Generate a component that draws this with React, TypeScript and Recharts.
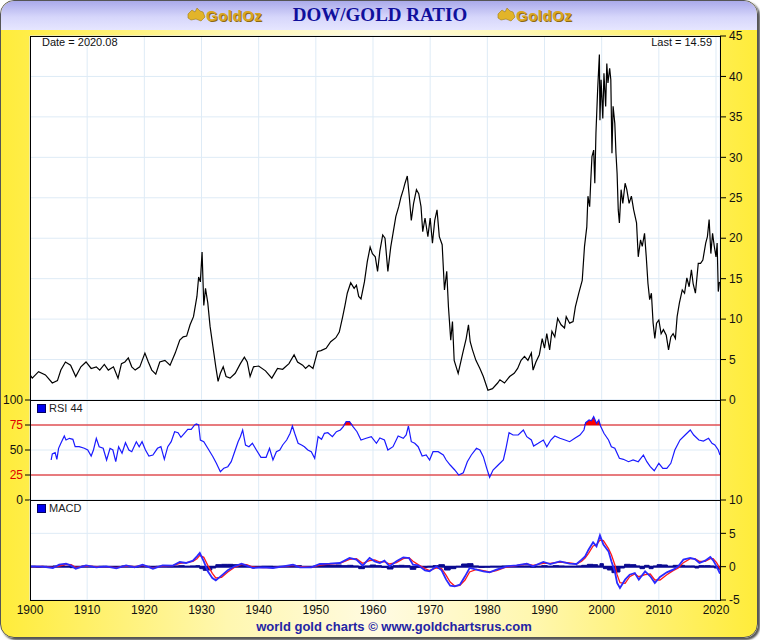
import React from 'react';
import { ComposedChart, Line, Area, XAxis, YAxis, CartesianGrid, ReferenceLine } from 'recharts';

// Dow/Gold ratio (decimal years)
const ratioYears = [
  1900.0, 1900.4, 1901.5, 1902.7, 1903.9, 1904.8, 1905.4, 1906.2, 1907.1, 1908.0, 1908.9, 1909.8,
  1910.7, 1911.6, 1912.2, 1913.0, 1913.7, 1914.6, 1915.4, 1916.0, 1916.6, 1917.2, 1917.8, 1918.4,
  1919.2, 1920.1, 1920.7, 1921.3, 1922.0, 1922.7, 1923.6, 1924.5, 1925.4, 1926.2, 1926.8, 1927.4,
  1928.0, 1928.6, 1929.2, 1929.5, 1929.8, 1930.1, 1930.4, 1930.7, 1931.1, 1931.5, 1932.0, 1932.5,
  1932.9, 1933.3, 1933.8, 1934.3, 1935.0, 1935.9, 1936.8, 1937.5, 1938.0, 1938.5, 1939.1, 1940.0,
  1941.2, 1942.3, 1943.3, 1944.2, 1945.3, 1946.2, 1946.8, 1947.7, 1948.2, 1948.8, 1949.5, 1950.3,
  1950.9, 1951.8, 1952.6, 1953.5, 1954.1, 1954.7, 1955.1, 1955.5, 1956.1, 1956.7, 1957.1, 1957.5,
  1957.9, 1958.5, 1959.0, 1959.5, 1959.9, 1960.4, 1960.8, 1961.2, 1961.7, 1962.1, 1962.6, 1963.1,
  1963.5, 1964.0, 1964.5, 1964.9, 1965.3, 1965.6, 1966.0, 1966.3, 1966.7, 1967.1, 1967.6, 1968.0,
  1968.4, 1968.7, 1969.1, 1969.6, 1970.0, 1970.4, 1970.8, 1971.2, 1971.6, 1972.1, 1972.5, 1972.9,
  1973.2, 1973.6, 1973.9, 1974.2, 1974.9, 1975.7, 1976.3, 1976.7, 1977.0, 1977.4, 1978.0, 1978.7,
  1979.3, 1980.1, 1980.9, 1981.8, 1982.2, 1983.0, 1983.9, 1984.7, 1985.3, 1985.9, 1986.5, 1987.1,
  1987.7, 1988.0, 1988.5, 1989.1, 1989.6, 1990.0, 1990.4, 1990.9, 1991.3, 1991.8, 1992.3, 1992.9,
  1993.5, 1993.8, 1994.4, 1995.0, 1995.4, 1996.0, 1996.6, 1997.0, 1997.4, 1997.6, 1997.9, 1998.1,
  1998.3, 1998.6, 1998.8, 1999.0, 1999.3, 1999.6, 1999.7, 1999.9, 2000.2, 2000.4, 2000.7, 2000.9,
  2001.1, 2001.4, 2001.6, 2001.8, 2002.0, 2002.3, 2002.5, 2002.7, 2002.9, 2003.1, 2003.4, 2003.7,
  2004.1, 2004.4, 2004.8, 2005.2, 2005.6, 2006.1, 2006.4, 2006.8, 2007.1, 2007.5, 2007.8, 2008.1,
  2008.4, 2008.7, 2009.0, 2009.3, 2009.6, 2010.0, 2010.4, 2010.8, 2011.3, 2011.7, 2012.1, 2012.5,
  2012.9, 2013.2, 2013.6, 2014.1, 2014.5, 2014.9, 2015.3, 2015.7, 2016.0, 2016.4, 2016.9, 2017.3,
  2017.7, 2018.2, 2018.5, 2018.8, 2019.1, 2019.4, 2019.7, 2020.0, 2020.2, 2020.4, 2020.6,
];
const ratioValues = [
  3.1, 2.7, 3.5, 3.1, 2.1, 2.4, 3.7, 4.7, 4.3, 2.9, 4.1, 4.7,
  3.9, 4.1, 3.7, 4.4, 3.7, 4.1, 2.7, 4.5, 4.7, 5.2, 4.1, 3.7,
  4.1, 5.8, 4.7, 3.7, 3.2, 4.7, 4.9, 4.3, 5.8, 7.4, 7.8, 7.9,
  9.3, 10.3, 12.8, 15.2, 14.6, 18.3, 11.7, 13.8, 12.0, 9.1, 6.6, 4.1,
  2.3, 3.3, 4.1, 2.9, 2.7, 3.3, 4.5, 5.3, 4.7, 2.9, 4.1, 4.2,
  3.6, 2.7, 3.9, 3.8, 4.5, 5.6, 4.7, 4.3, 3.9, 4.3, 3.9, 6.0,
  6.1, 6.4, 7.2, 7.7, 8.4, 10.3, 11.7, 13.2, 14.5, 13.8, 14.2, 12.8,
  12.5, 14.6, 17.1, 18.9, 18.1, 17.7, 15.9, 18.4, 20.4, 20.0, 15.9, 18.9,
  20.6, 22.7, 23.9, 25.1, 26.0, 26.8, 27.7, 25.5, 22.2, 24.3, 26.0, 25.5,
  23.9, 20.8, 22.5, 20.2, 22.5, 19.4, 22.2, 23.5, 20.2, 19.2, 13.6, 15.9,
  11.5, 7.4, 9.7, 4.9, 3.3, 5.8, 7.6, 9.3, 7.2, 6.2, 4.9, 3.9,
  2.9, 1.2, 1.4, 2.1, 2.5, 2.1, 2.9, 3.3, 3.9, 4.9, 5.4, 4.9,
  5.8, 3.7, 4.7, 5.6, 7.6, 6.4, 8.2, 6.2, 8.5, 7.8, 10.1, 9.3,
  8.9, 10.3, 9.5, 9.7, 11.5, 13.2, 14.8, 19.0, 21.4, 25.2, 23.9, 27.2,
  30.1, 30.9, 26.8, 33.0, 38.4, 42.7, 34.6, 39.6, 34.8, 40.4, 36.3, 41.6,
  39.2, 41.0, 39.6, 30.5, 36.3, 34.2, 30.5, 28.0, 23.5, 21.9, 26.0, 24.3,
  26.8, 26.0, 24.3, 25.2, 23.5, 21.9, 17.7, 19.8, 19.0, 20.6, 17.7, 14.4,
  12.4, 13.2, 9.5, 7.6, 9.5, 9.9, 8.2, 8.7, 8.0, 6.2, 7.8, 8.2,
  7.6, 10.3, 12.0, 13.6, 13.2, 15.1, 14.0, 16.1, 14.4, 13.2, 16.9, 16.9,
  17.3, 19.4, 20.2, 22.3, 18.1, 20.6, 19.0, 17.7, 19.4, 13.4, 14.6,
];

// RSI 44
const rsiYears = [
  1903.7, 1903.9, 1904.4, 1904.7, 1905.0, 1905.4, 1906.0, 1906.3, 1906.9, 1907.5, 1907.9, 1908.6,
  1909.5, 1910.1, 1910.7, 1911.1, 1911.6, 1912.1, 1912.8, 1913.4, 1914.0, 1914.5, 1915.0, 1915.5,
  1916.1, 1916.7, 1917.3, 1917.8, 1918.6, 1919.1, 1919.6, 1920.2, 1920.8, 1921.5, 1922.3, 1922.9,
  1923.5, 1924.1, 1924.7, 1925.3, 1925.9, 1926.4, 1927.0, 1927.6, 1928.2, 1928.8, 1929.1, 1929.5,
  1929.8, 1930.4, 1931.1, 1932.0, 1932.6, 1933.3, 1933.9, 1934.6, 1935.2, 1935.8, 1936.4, 1936.8,
  1937.2, 1937.7, 1938.3, 1938.9, 1939.6, 1940.4, 1941.3, 1941.9, 1942.5, 1943.1, 1943.7, 1944.2,
  1944.9, 1945.5, 1945.9, 1946.3, 1946.9, 1947.5, 1948.0, 1948.6, 1949.2, 1949.8, 1950.4, 1951.0,
  1951.5, 1952.1, 1952.9, 1953.6, 1954.3, 1954.8, 1955.3, 1955.9, 1956.5, 1957.2, 1957.9, 1958.8,
  1959.7, 1960.6, 1961.2, 1962.0, 1962.6, 1963.5, 1964.4, 1965.3, 1965.8, 1966.2, 1966.7, 1967.3,
  1967.9, 1968.6, 1969.3, 1969.9, 1970.5, 1971.4, 1972.3, 1972.8, 1973.5, 1974.3, 1975.0, 1975.8,
  1976.5, 1977.2, 1978.1, 1978.7, 1979.3, 1979.9, 1980.4, 1981.0, 1981.9, 1982.8, 1983.2, 1983.8,
  1984.5, 1985.4, 1986.3, 1986.9, 1987.7, 1988.1, 1988.9, 1989.8, 1990.4, 1991.1, 1991.8, 1992.7,
  1993.6, 1994.4, 1995.3, 1996.2, 1996.9, 1997.2, 1997.8, 1998.2, 1998.6, 1999.1, 1999.5, 1999.8,
  2000.4, 2001.2, 2001.7, 2002.3, 2003.1, 2003.8, 2004.7, 2005.5, 2006.4, 2007.3, 2007.9, 2008.5,
  2009.2, 2010.0, 2010.7, 2011.4, 2012.1, 2012.8, 2013.7, 2014.6, 2015.5, 2016.1, 2017.0, 2017.8,
  2018.7, 2019.3, 2019.8, 2020.4, 2020.7,
];
const rsiValues = [
  40, 46, 47.3, 40.7, 51.7, 56.7, 64, 60, 61.7, 60.7, 53.3, 53.3,
  51.7, 50, 44, 50, 61.7, 53.3, 51.7, 40, 51.7, 50, 38.3, 53.3,
  46.7, 57.3, 50, 48.3, 58.3, 53.3, 58.3, 50, 44, 45, 51.7, 53.3,
  40.7, 53.3, 58.3, 68.3, 67.3, 62.7, 66.7, 70.7, 70.7, 75, 76, 75,
  60, 58.3, 51.7, 43.3, 36.7, 28.3, 31.7, 33.3, 38.3, 48.3, 58.3, 63.3,
  70, 55, 53.3, 56.7, 50, 42.7, 42.7, 51.7, 40, 48.3, 50, 55,
  60, 66.7, 74, 66.7, 56.7, 55, 53.3, 50, 48.3, 41.7, 63.3, 60.7,
  66.7, 67.3, 63.3, 68.3, 70, 73.3, 78.3, 78.3, 73.3, 68.3, 60, 61.7,
  63.3, 56.7, 62, 60, 50, 53.3, 64, 61.7, 65, 74, 58.3, 56.7,
  53.3, 44, 45, 40, 48.3, 48.3, 45, 40, 35, 30, 25, 27.3,
  38.3, 45, 51.7, 50, 43.3, 31.7, 22.7, 30, 35, 40, 50, 67.3,
  65, 65, 70, 63.3, 60, 54, 56.7, 60, 53.3, 60, 64, 61.7,
  60, 58.3, 61.7, 65, 70, 77.3, 80, 79.3, 83.3, 76.7, 80, 74,
  66.7, 60, 53.3, 51.7, 41.7, 40.7, 38.3, 40, 38.3, 45, 38.3, 33.3,
  29.3, 36.7, 31.7, 31.7, 36.7, 50, 60, 65, 70, 65, 60, 59,
  61.7, 56.7, 55, 50, 45,
];

// MACD line and its signal line
const macdYears = [
  1900.0, 1902.2, 1904.0, 1905.1, 1906.3, 1907.2, 1908.0, 1909.8, 1911.6, 1913.3, 1915.1, 1916.8,
  1918.3, 1919.7, 1921.5, 1923.2, 1925.0, 1926.2, 1927.3, 1928.5, 1929.2, 1929.7, 1930.4, 1931.1,
  1931.9, 1932.5, 1933.5, 1934.6, 1935.8, 1937.0, 1937.9, 1939.0, 1940.8, 1942.5, 1944.3, 1946.0,
  1947.2, 1949.2, 1950.7, 1952.4, 1954.2, 1955.9, 1957.1, 1958.2, 1959.4, 1960.3, 1961.2, 1962.0,
  1962.9, 1964.1, 1965.3, 1966.3, 1967.0, 1967.9, 1969.1, 1969.9, 1971.1, 1972.0, 1972.8, 1973.5,
  1974.3, 1975.2, 1976.1, 1976.9, 1978.1, 1979.3, 1980.4, 1981.6, 1983.4, 1985.1, 1986.9, 1988.0,
  1989.8, 1991.0, 1992.7, 1994.4, 1995.6, 1996.5, 1997.1, 1997.7, 1998.5, 1999.1, 1999.7, 2000.3,
  2001.2, 2001.7, 2002.3, 2002.7, 2003.2, 2004.1, 2004.9, 2005.8, 2006.5, 2007.6, 2008.5, 2009.3,
  2010.2, 2011.4, 2012.5, 2013.4, 2014.3, 2015.5, 2016.3, 2017.1, 2018.1, 2019.0, 2019.5, 2020.1,
  2020.7,
];
const macdValues = [
  0.05, 0.0, -0.2, 0.3, 0.45, 0.15, -0.3, 0.2, -0.1, 0.05, -0.25, 0.2,
  -0.1, 0.3, -0.3, 0.2, 0.15, 0.7, 0.55, 0.9, 1.55, 2.05, 0.8, -0.7,
  -1.7, -2.05, -1.35, -0.55, 0.05, 0.45, 0.15, -0.2, -0.1, -0.2, 0.05, 0.3,
  -0.1, -0.1, 0.4, 0.45, 0.55, 1.3, 1.05, 0.15, 1.3, 0.8, 0.55, 0.9,
  0.05, 0.8, 1.4, 1.3, 0.3, 0.2, -0.55, -0.7, 0.05, -0.55, -1.95, -2.85,
  -2.95, -2.7, -1.45, -0.2, -0.45, -0.7, -0.85, -0.45, 0.05, 0.2, 0.45, 0.05,
  0.7, 0.4, 0.8, 0.45, 0.4, 1.05, 1.55, 2.55, 3.65, 3.05, 4.7, 3.3,
  2.3, 0.8, -0.7, -2.45, -3.2, -1.95, -1.2, -0.95, -1.95, -0.7, -1.45, -2.45,
  -1.55, -0.85, -0.45, 0.05, 1.05, 1.3, 1.15, 0.55, 0.9, 1.45, 0.95, 0.05,
  -1.05,
];
const signalValues = [
  0.0, 0.05, -0.1, 0.1, 0.35, 0.3, -0.1, 0.1, 0.0, 0.0, -0.15, 0.1,
  0.0, 0.2, -0.2, 0.1, 0.15, 0.5, 0.6, 0.8, 1.2, 1.7, 1.4, 0.2,
  -1.0, -1.7, -1.6, -0.8, -0.1, 0.35, 0.3, -0.05, -0.15, -0.15, 0.0, 0.2,
  0.05, -0.1, 0.25, 0.4, 0.5, 1.1, 1.2, 0.5, 0.9, 1.0, 0.7, 0.75,
  0.4, 0.6, 1.2, 1.35, 0.8, 0.3, -0.3, -0.6, -0.2, -0.3, -1.3, -2.3,
  -2.9, -2.8, -2.0, -0.8, -0.4, -0.6, -0.8, -0.6, -0.05, 0.15, 0.4, 0.2,
  0.5, 0.5, 0.7, 0.55, 0.4, 0.8, 1.3, 2.0, 3.1, 3.3, 4.0, 3.9,
  2.7, 1.8, 0.3, -1.2, -2.4, -2.5, -1.5, -1.1, -1.5, -1.2, -1.1, -2.0,
  -2.0, -1.2, -0.6, -0.2, 0.6, 1.2, 1.2, 0.8, 0.8, 1.2, 1.2, 0.6,
  -0.3,
];

// MACD histogram
const histYears = [
  1900, 1901, 1902, 1903, 1904, 1905, 1906, 1907, 1908, 1909, 1910, 1911,
  1912, 1913, 1914, 1915, 1916, 1917, 1918, 1919, 1920, 1921, 1922, 1923,
  1924, 1925, 1926, 1927, 1928, 1929, 1929.7, 1930.3, 1931, 1931.8, 1932.5, 1933.5,
  1934.5, 1935.5, 1936.5, 1937.5, 1938.5, 1939.5, 1940.5, 1941.5, 1942.5, 1943.5, 1944.5, 1945.5,
  1946.5, 1947.5, 1948.5, 1949.5, 1950.5, 1951.5, 1952.5, 1953.5, 1954.5, 1955.5, 1956.5, 1957.5,
  1958.5, 1959.5, 1960.5, 1961.5, 1962.5, 1963.5, 1964.5, 1965.5, 1966.5, 1967.5, 1968.5, 1969.5,
  1970.5, 1971.5, 1972.5, 1973.5, 1974.5, 1975.5, 1976.5, 1977.5, 1978.5, 1979.5, 1980.5, 1981.5,
  1982.5, 1983.5, 1984.5, 1985.5, 1986.5, 1987.5, 1988.5, 1989.5, 1990.5, 1991.5, 1992.5, 1993.5,
  1994.5, 1995.5, 1996.5, 1997.5, 1998.5, 1999.3, 1999.7, 2000.3, 2001.0, 2001.8, 2002.5, 2003.2,
  2004.0, 2005.0, 2006.0, 2006.7, 2007.5, 2008.3, 2009.0, 2009.7, 2010.5, 2011.5, 2012.5, 2013.5,
  2014.5, 2015.5, 2016.3, 2017.0, 2018.0, 2019.0, 2019.7, 2020.3, 2020.7,
];
const histValues = [
  0.05, -0.05, 0.05, -0.1, 0.1, 0.15, 0.05, -0.15, -0.1, 0.1, 0.05, -0.05,
  0.05, 0.0, -0.1, -0.1, 0.1, 0.05, -0.05, 0.1, 0.05, -0.1, 0.05, 0.05,
  0.0, 0.1, 0.15, 0.05, 0.1, 0.15, -0.3, -0.55, -0.5, -0.2, 0.3, 0.35,
  0.35, 0.3, 0.25, 0.1, -0.1, -0.05, 0.05, 0.05, -0.05, 0.05, 0.05, 0.2,
  0.15, -0.1, -0.05, 0.05, 0.2, 0.25, 0.2, 0.25, 0.15, 0.2, 0.1, -0.3,
  0.1, 0.25, 0.15, -0.1, -0.35, 0.15, 0.2, 0.15, -0.4, -0.1, -0.1, 0.05,
  0.15, 0.3, -0.5, -0.3, 0.05, 0.4, 0.45, 0.1, -0.1, -0.05, 0.05, 0.05,
  0.1, 0.1, 0.05, 0.1, 0.1, -0.05, 0.05, 0.15, 0.05, 0.15, 0.1, 0.05,
  0.05, 0.1, 0.2, 0.35, 0.3, 0.1, 0.45, -0.3, -0.5, -0.9, -0.8, -0.2,
  0.35, 0.3, 0.1, -0.3, 0.2, -0.3, 0.1, 0.3, 0.25, 0.05, 0.2, 0.2,
  0.1, 0.1, -0.2, 0.15, 0.15, 0.1, -0.2, -0.35, -0.6,
];

const decadeTicks = [1900, 1910, 1920, 1930, 1940, 1950, 1960, 1970, 1980, 1990, 2000, 2010, 2020];
const ratioTicks = [0, 5, 10, 15, 20, 25, 30, 35, 40, 45];
const rsiTicks = [0, 25, 50, 75, 100];
const macdTicks = [-5, 0, 5, 10];

const ratioData = ratioYears.map((year, i) => ({ year, ratio: ratioValues[i] }));
const rsiData = rsiYears.map((year, i) => ({ year, rsi: rsiValues[i], over: Math.max(rsiValues[i], 75) }));
const macdData = [
  ...macdYears.map((year, i) => ({ year, macd: macdValues[i], signal: signalValues[i] })),
  ...histYears.map((year, i) => ({ year, hist: histValues[i] })),
].sort((a, b) => a.year - b.year);

const X_DOMAIN: [number, number] = [1900, 2020.7];
const FONT = '"Liberation Sans", Arial, sans-serif';
const GRID = '#deebf6';
const tickStyle = { fill: '#111', fontSize: 12, fontFamily: FONT };

const RsiTick = (props: any) => {
  const { x, y, payload } = props;
  const red = payload.value === 25 || payload.value === 75;
  return (
    <text x={x} y={y} dy={4} textAnchor="end" fill={red ? '#e00000' : '#111'} fontSize={12} fontFamily={FONT}>
      {payload.value}
    </text>
  );
};

const GoldOz = ({ left }: { left: number }) => (
  <div style={{ position: 'absolute', left, top: 5, height: 20, display: 'flex', alignItems: 'center' }}>
    <svg width={20} height={16}>
      <path d="M2 7 L6 3 L9 5 L11 1 L14 4 L17 5 L19 10 L15 14 L10 12 L5 13 L2 11 Z" fill="#e2b42a" stroke="#a07a10" strokeWidth={0.6} />
    </svg>
    <span style={{ fontFamily: FONT, fontWeight: 'bold', fontSize: 15, color: '#d9a520', textShadow: '1px 1px 0 #8c6a12', letterSpacing: 0.5 }}>
      GoldOz
    </span>
  </div>
);

const legendBox = (top: number, label: string) => (
  <div style={{ position: 'absolute', left: 37, top, display: 'flex', alignItems: 'center', fontSize: 11, color: '#222' }}>
    <div style={{ width: 7, height: 7, background: '#0000ee', border: '1px solid #000060', marginRight: 3 }} />
    <span>{label}</span>
  </div>
);

export default function App() {
  return (
    <div style={{ position: 'absolute', left: 0, top: 0, width: 760, height: 640, fontFamily: FONT, overflow: 'hidden' }}>
      <div
        style={{
          position: 'absolute', left: 0, top: 0, width: 756, height: 636,
          border: '1.5px solid #555', borderRadius: 14, boxShadow: '2px 2px 2px #555',
          background: 'linear-gradient(to right, #ffec3a 0%, #fff7b0 30%, #fffbe2 50%, #fff7b0 70%, #ffec3a 100%)',
          overflow: 'hidden',
        }}
      >
        <div
          style={{
            position: 'absolute', left: 0, top: 0, width: 756, height: 29,
            background: 'linear-gradient(#aaaaea, #d6d6fb 55%, #e6e6ff)',
          }}
        />
      </div>

      <GoldOz left={186} />
      <GoldOz left={496} />
      <div
        style={{
          position: 'absolute', left: 0, width: 760, top: 4, textAlign: 'center',
          fontFamily: '"Liberation Serif", "Times New Roman", serif', fontWeight: 'bold', fontSize: 19, color: '#10109c',
        }}
      >
        DOW/GOLD RATIO
      </div>

      {/* main ratio panel */}
      <div style={{ position: 'absolute', left: 0, top: 26 }}>
        <ComposedChart width={760} height={384} data={ratioData} margin={{ top: 10, right: 0, bottom: 10, left: 30 }}>
          <CartesianGrid stroke={GRID} fill="#fff" />
          <XAxis dataKey="year" type="number" domain={X_DOMAIN} ticks={decadeTicks} allowDataOverflow hide />
          <YAxis
            orientation="right" width={40} domain={[0, 45]} ticks={ratioTicks} interval={0}
            axisLine={false} tickSize={6} tickMargin={3} tickLine={{ stroke: '#000' }} tick={tickStyle}
          />
          <Line dataKey="ratio" stroke="#000" strokeWidth={1.2} dot={false} isAnimationActive={false} />
        </ComposedChart>
      </div>

      {/* RSI panel */}
      <div style={{ position: 'absolute', left: 0, top: 390 }}>
        <ComposedChart width={760} height={120} data={rsiData} margin={{ top: 10, right: 40, bottom: 10, left: 0 }}>
          <CartesianGrid stroke={GRID} fill="#fff" />
          <XAxis dataKey="year" type="number" domain={X_DOMAIN} ticks={decadeTicks} allowDataOverflow hide />
          <YAxis
            orientation="left" width={30} domain={[0, 100]} ticks={rsiTicks} interval={0}
            axisLine={false} tickSize={5} tickMargin={2} tickLine={{ stroke: '#000' }} tick={<RsiTick />}
          />
          <ReferenceLine y={75} stroke="#e00000" strokeWidth={1} />
          <ReferenceLine y={25} stroke="#e00000" strokeWidth={1} />
          <Area dataKey="over" baseValue={75} stroke="none" fill="#ff0000" fillOpacity={1} dot={false} isAnimationActive={false} />
          <Line dataKey="rsi" stroke="#1a1aff" strokeWidth={1.2} dot={false} isAnimationActive={false} />
        </ComposedChart>
      </div>

      {/* MACD panel */}
      <div style={{ position: 'absolute', left: 0, top: 490 }}>
        <ComposedChart width={760} height={140} data={macdData} margin={{ top: 10, right: 0, bottom: 0, left: 30 }}>
          <CartesianGrid stroke={GRID} fill="#fff" />
          <XAxis
            dataKey="year" type="number" domain={X_DOMAIN} ticks={decadeTicks} interval={0} allowDataOverflow
            height={30} axisLine={false} tickLine={false} tickSize={0} tickMargin={5} tick={tickStyle}
          />
          <YAxis
            orientation="right" width={40} domain={[-5, 10]} ticks={macdTicks} interval={0}
            axisLine={false} tickSize={6} tickMargin={3} tickLine={{ stroke: '#000' }} tick={tickStyle}
          />
          <Area type="stepAfter" dataKey="hist" baseValue={0} connectNulls stroke="#0a0a90" strokeWidth={1} fill="#0a0a90" fillOpacity={1} dot={false} isAnimationActive={false} />
          <ReferenceLine y={0} stroke="#0a0a90" strokeWidth={2} />
          <Line dataKey="signal" connectNulls stroke="#ff1a1a" strokeWidth={1.3} dot={false} isAnimationActive={false} />
          <Line dataKey="macd" connectNulls stroke="#2a2aff" strokeWidth={1.8} dot={false} isAnimationActive={false} />
        </ComposedChart>
      </div>

      {/* panel frame and dividers */}
      <div style={{ position: 'absolute', left: 30, top: 36, width: 691, height: 565, border: '1px solid #000', boxSizing: 'border-box', pointerEvents: 'none' }} />
      <div style={{ position: 'absolute', left: 30, top: 400, width: 691, height: 1, background: '#000' }} />
      <div style={{ position: 'absolute', left: 30, top: 500, width: 691, height: 1, background: '#000' }} />

      <div style={{ position: 'absolute', left: 42, top: 36, fontSize: 11, color: '#111' }}>Date = 2020.08</div>
      <div style={{ position: 'absolute', right: 48, top: 36, fontSize: 11, color: '#111' }}>Last = 14.59</div>
      {legendBox(402, 'RSI 44')}
      {legendBox(502, 'MACD')}

      <div style={{ position: 'absolute', left: 0, width: 788, top: 619, textAlign: 'center', fontSize: 13, fontWeight: 'bold', color: '#2424a4' }}>
        world gold charts © www.goldchartsrus.com
      </div>
    </div>
  );
}
